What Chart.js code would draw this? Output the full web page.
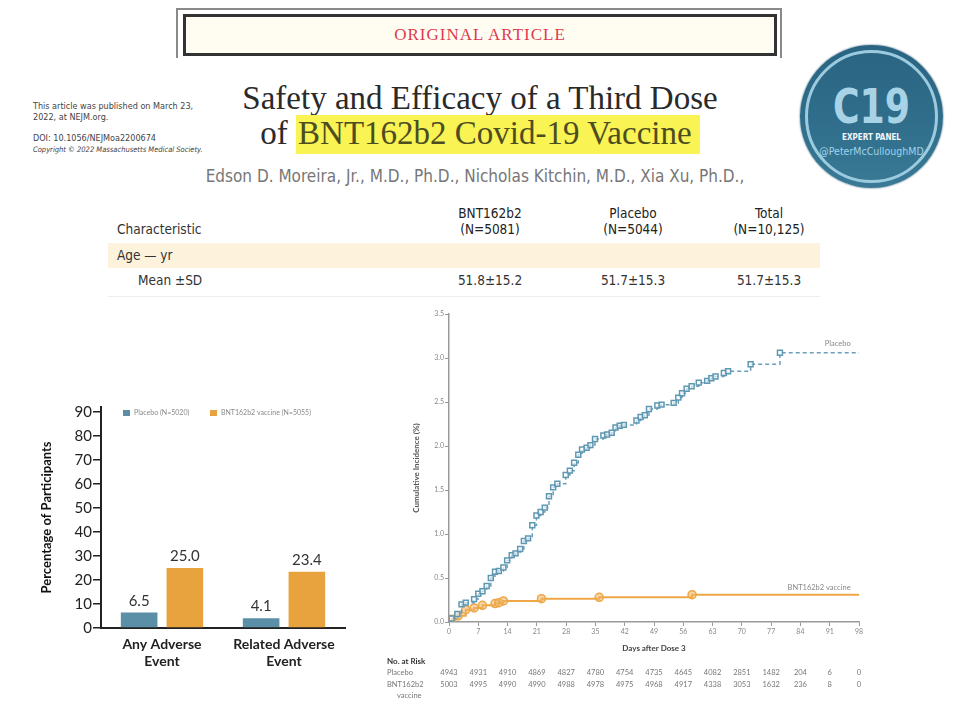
<!DOCTYPE html>
<html>
<head>
<meta charset="utf-8">
<script src="https://cdn.jsdelivr.net/npm/chart.js@4.4.1/dist/chart.umd.min.js"></script>
<style>
  html, body { margin: 0; padding: 0; background: #fff; }
  body { width: 960px; height: 720px; position: relative; overflow: hidden; font-family: "Liberation Sans Narrow", "DejaVu Sans Condensed", sans-serif; }
  .abs { position: absolute; }
  #frame { left: 176px; top: 8px; width: 606px; height: 50px; border: 2px solid #8a8a8a; border-bottom: none; box-sizing: border-box; }
  #banner { left: 183px; top: 14px; width: 594px; height: 42px; border: 3px solid #333; background: #fffdf2; box-sizing: border-box;
            text-align: center; line-height: 36px; color: #e0394f; font-family: "Liberation Serif", serif; font-size: 17px; letter-spacing: 1px; }
  #pubinfo { left: 33px; top: 101px; font-size: 9px; color: #444; line-height: 11px; }
  #title { left: 180px; top: 81px; width: 600px; text-align: center; font-family: "Liberation Serif", serif; font-size: 33px; color: #2a2a2a; line-height: 35px; }
  #title .hl { background: #f9f353; color: #4d4d22; padding: 0 8px 3px 2px; }
  #authors { left: 180px; top: 166px; width: 590px; text-align: center; font-size: 17px; color: #777; }
  #table { left: 108px; top: 200px; width: 712px; height: 96px; font-size: 13.5px; color: #333; }
  #table .band { position: absolute; left: 0; top: 43px; width: 712px; height: 25px; background: #fdf3dc; }
  #table .rule { position: absolute; left: 0; top: 96px; width: 712px; height: 1px; background: #eee; }
  #table .t { position: absolute; white-space: nowrap; }
  #table .c { position: absolute; text-align: center; width: 120px; line-height: 16px; }
  #table .h { color: #222; }
  #logo { left: 800px; top: 45px; width: 143px; height: 143px; border-radius: 50%;
          background: linear-gradient(to bottom, #2a6482 0%, #2f6d8a 50%, #3a7a96 100%); box-shadow: 0 0 2px #2a5b75; }
  #logo .ring { position: absolute; left: 5px; top: 5px; width: 127px; height: 127px; border-radius: 50%; border: 3px solid #9ccbe0; }
  #logo .big { position: absolute; left: 0; top: 37px; width: 143px; text-align: center; font-family: "Liberation Sans Narrow", "DejaVu Sans Condensed", sans-serif; font-weight: bold; font-size: 48px; color: #a8d3e6; line-height: 48px; transform: scaleX(0.84); }
  #logo .sm1 { position: absolute; left: 0; top: 88px; width: 143px; text-align: center; font-size: 8px; font-weight: bold; color: #f2f7fa; }
  #logo .sm2 { position: absolute; left: 0; top: 100px; width: 143px; text-align: center; font-size: 10.5px; color: #9fd3ea; }
  #barWrap { left: 20px; top: 395px; width: 350px; height: 285px; }
  #kmWrap { left: 380px; top: 300px; width: 500px; height: 405px; }
</style>
</head>
<body>
<div id="frame" class="abs"></div>
<div id="banner" class="abs">ORIGINAL ARTICLE</div>
<div id="pubinfo" class="abs">This article was published on March 23,<br>2022, at NEJM.org.<div style="height:10px"></div>DOI: 10.1056/NEJMoa2200674<br><i style="font-size:7.5px">Copyright © 2022 Massachusetts Medical Society.</i></div>
<div id="title" class="abs">Safety and Efficacy of a Third Dose<br>of <span class="hl">BNT162b2 Covid-19 Vaccine</span></div>
<div id="authors" class="abs">Edson D. Moreira, Jr., M.D., Ph.D., Nicholas Kitchin, M.D., Xia Xu, Ph.D.,</div>
<div id="table" class="abs">
  <div class="band"></div>
  <div class="t" style="left:9px;top:21px;">Characteristic</div>
  <div class="c h" style="left:322px;top:5px;">BNT162b2<br>(N=5081)</div>
  <div class="c h" style="left:465px;top:5px;">Placebo<br>(N=5044)</div>
  <div class="c h" style="left:601px;top:5px;">Total<br>(N=10,125)</div>
  <div class="t" style="left:9px;top:47px;">Age — yr</div>
  <div class="t" style="left:30px;top:72px;">Mean ±SD</div>
  <div class="c" style="left:322px;top:72px;">51.8±15.2</div>
  <div class="c" style="left:465px;top:72px;">51.7±15.3</div>
  <div class="c" style="left:601px;top:72px;">51.7±15.3</div>
  <div class="rule"></div>
</div>
<div id="logo" class="abs">
  <div class="ring"></div>
  <div class="big">C19</div>
  <div class="sm1">EXPERT PANEL</div>
  <div class="sm2">@PeterMcCulloughMD</div>
</div>
<div id="barWrap" class="abs"><canvas id="barChart"></canvas></div>
<div id="kmWrap" class="abs"><canvas id="kmChart"></canvas></div>

<script>
// ---- bar chart data ----
const eventLabels = [["Any Adverse", "Event"], ["Related Adverse", "Event"]];
const placeboPct = [6.5, 4.1];
const vaccinePct = [25.0, 23.4];

// ---- cumulative incidence data (days after dose 3, %) ----
const placeboDays = [0, 0.6, 2.0, 3.0, 4.0, 6.0, 7.0, 8.0, 9.0, 10.0, 11.0, 11.9, 13.0, 13.9, 15.0, 15.9, 17.0, 17.9, 18.9, 19.9, 20.9, 21.9, 22.9, 23.9, 24.9, 25.9, 27.9, 28.9, 29.9, 30.9, 31.8, 32.9, 33.8, 34.9, 36.9, 37.8, 38.9, 39.8, 40.8, 41.8, 44.8, 45.8, 46.8, 47.8, 49.8, 50.8, 53.7, 54.8, 55.7, 56.8, 58.0, 59.7, 61.7, 62.7, 63.7, 65.7, 66.7, 72.1, 79.1, 98];
const placeboInc = [0, 0.04, 0.09, 0.20, 0.22, 0.26, 0.32, 0.35, 0.41, 0.50, 0.57, 0.58, 0.62, 0.70, 0.76, 0.78, 0.83, 0.92, 0.95, 1.10, 1.21, 1.25, 1.30, 1.43, 1.53, 1.57, 1.67, 1.72, 1.81, 1.90, 1.96, 1.98, 2.01, 2.08, 2.12, 2.13, 2.15, 2.21, 2.23, 2.24, 2.29, 2.33, 2.35, 2.42, 2.46, 2.47, 2.49, 2.55, 2.60, 2.65, 2.68, 2.72, 2.74, 2.77, 2.79, 2.83, 2.85, 2.93, 3.06, 3.06];
const vaccineDays = [0, 0.6, 2.2, 4.0, 6.0, 8.0, 11.0, 11.9, 13.0, 22.1, 35.9, 58.1, 98];
const vaccineInc = [0, 0.03, 0.07, 0.14, 0.16, 0.19, 0.21, 0.22, 0.24, 0.265, 0.28, 0.31, 0.31];

// ---- number at risk ----
const riskDays = [0, 7, 14, 21, 28, 35, 42, 49, 56, 63, 70, 77, 84, 91, 98];
const placeboRisk = [4943, 4931, 4910, 4869, 4827, 4780, 4754, 4735, 4645, 4082, 2851, 1482, 204, 6, 0];
const vaccineRisk = [5003, 4995, 4990, 4990, 4988, 4978, 4975, 4968, 4917, 4338, 3053, 1632, 236, 8, 0];

const BLUE = "#5b8fa8";
const ORANGE = "#e8a23e";

// value labels above the bars + small legend in the top right corner
const barExtras = {
    id: "barExtras",
    afterDatasetsDraw(chart) {
        const ctx = chart.ctx;
        const area = chart.chartArea;
        ctx.save();
        ctx.font = "15px Lato, sans-serif";
        ctx.fillStyle = "#333";
        ctx.textAlign = "center";
        ctx.textBaseline = "bottom";
        chart.data.datasets.forEach((ds, i) => {
            chart.getDatasetMeta(i).data.forEach((bar, j) => {
                ctx.fillText(ds.data[j].toFixed(1), bar.x, bar.y - 4);
            });
        });

        // legend
        ctx.font = "7px Lato, sans-serif";
        ctx.textAlign = "left";
        ctx.textBaseline = "middle";
        const ly = area.top + 6;
        const lx = [area.left + 22, area.left + 109];
        chart.data.datasets.forEach((ds, i) => {
            ctx.fillStyle = ds.backgroundColor;
            ctx.fillRect(lx[i], ly - 3, 7, 6);
            ctx.fillStyle = "#8a8a8a";
            ctx.fillText(ds.label, lx[i] + 11, ly);
        });
        ctx.restore();
    }
};

new Chart(document.getElementById("barChart"), {
    type: "bar",
    data: {
        labels: eventLabels,
        datasets: [
            { label: "Placebo (N=5020)", data: placeboPct, backgroundColor: BLUE },
            { label: "BNT162b2 vaccine (N=5055)", data: vaccinePct, backgroundColor: ORANGE }
        ]
    },
    options: {
        responsive: true,
        maintainAspectRatio: false,
        animation: false,
        categoryPercentage: 0.75,
        barPercentage: 0.8,
        layout: { padding: { left: 15, right: 25, top: 12, bottom: 0 } },
        scales: {
            x: {
                grid: { display: false, drawTicks: false },
                border: { color: "#222", width: 2 },
                ticks: { color: "#222", font: { family: "Lato", size: 14, weight: "bold" }, padding: 8, maxRotation: 0 },
                afterFit(scale) { scale.height = 52; }
            },
            y: {
                min: 0,
                max: 92,
                grid: { drawOnChartArea: false, drawTicks: true, tickLength: 8, color: "#222", lineWidth: 1.5 },
                border: { color: "#222", width: 2 },
                ticks: { stepSize: 10, includeBounds: false, color: "#222", font: { family: "Lato", size: 15 }, padding: 1 },
                title: { display: true, text: "Percentage of Participants", color: "#111", font: { family: "Lato", size: 13, weight: "bold" } },
                afterFit(scale) { scale.width = 66; }
            }
        },
        plugins: {
            legend: { display: false },
            tooltip: { enabled: false }
        }
    },
    plugins: [barExtras]
});

// series names and number-at-risk table under the km plot
const kmExtras = {
    id: "kmExtras",
    afterDraw(chart) {
        const ctx = chart.ctx;
        const xs = chart.scales.x;
        const ys = chart.scales.y;
        ctx.save();
        ctx.fillStyle = "#888";
        ctx.font = "7.5px Lato, sans-serif";
        ctx.textAlign = "right";
        ctx.textBaseline = "middle";
        ctx.fillText("Placebo", xs.getPixelForValue(96), ys.getPixelForValue(3.16));
        ctx.fillText("BNT162b2 vaccine", xs.getPixelForValue(96), ys.getPixelForValue(0.39));

        const rowY = [673, 685];
        const top = chart.canvas.getBoundingClientRect().top;
        ctx.textAlign = "left";
        ctx.fillStyle = "#333";
        ctx.font = "bold 8px Lato, sans-serif";
        ctx.fillText("No. at Risk", 7, 661 - top);
        ctx.fillStyle = "#777";
        ctx.font = "7.5px Lato, sans-serif";
        ctx.fillText("Placebo", 7, rowY[0] - top);
        ctx.fillText("BNT162b2", 7, rowY[1] - top);
        ctx.fillText("vaccine", 17, 696 - top);
        ctx.textAlign = "center";
        riskDays.forEach((d, i) => {
            const x = xs.getPixelForValue(d);
            ctx.fillText(String(placeboRisk[i]), x, rowY[0] - top);
            ctx.fillText(String(vaccineRisk[i]), x, rowY[1] - top);
        });
        ctx.restore();
    }
};

const endPoint = (c) => c.dataIndex === 0 || c.dataIndex === c.dataset.data.length - 1;

new Chart(document.getElementById("kmChart"), {
    type: "line",
    data: {
        datasets: [
            {
                label: "Placebo",
                data: placeboDays.map((d, i) => ({ x: d, y: placeboInc[i] })),
                borderColor: "#6a9fb9",
                borderWidth: 1.5,
                borderDash: [4, 3],
                stepped: true,
                pointStyle: "rect",
                pointRadius: (c) => endPoint(c) ? 0 : 3.5,
                pointBorderColor: "#5f98b3",
                pointBackgroundColor: "rgba(255,255,255,0.6)",
                pointBorderWidth: 1.5
            },
            {
                label: "BNT162b2 vaccine",
                data: vaccineDays.map((d, i) => ({ x: d, y: vaccineInc[i] })),
                borderColor: "#eda745",
                borderWidth: 2,
                stepped: true,
                pointStyle: "circle",
                pointRadius: (c) => endPoint(c) ? 0 : 4,
                pointBorderColor: "#eda745",
                pointBackgroundColor: "rgba(240,180,100,0.55)",
                pointBorderWidth: 1.5
            }
        ]
    },
    options: {
        responsive: true,
        maintainAspectRatio: false,
        animation: false,
        layout: { padding: { left: 28, right: 21, top: 14, bottom: 50 } },
        scales: {
            x: {
                type: "linear",
                min: 0,
                max: 98,
                grid: { drawOnChartArea: false, drawTicks: true, tickLength: 4, color: "#999" },
                border: { color: "#999", width: 1.5 },
                ticks: { stepSize: 7, color: "#888", font: { family: "Lato", size: 7 }, padding: 2, maxRotation: 0 },
                title: { display: true, text: "Days after Dose 3", color: "#444", font: { family: "Lato", size: 8, weight: "bold" }, padding: { top: 5, bottom: 2 } }
            },
            y: {
                min: 0,
                max: 3.5,
                grid: { drawOnChartArea: false, drawTicks: true, tickLength: 4, color: "#999" },
                border: { color: "#999", width: 1.5 },
                ticks: { stepSize: 0.5, color: "#888", font: { family: "Lato", size: 7 }, padding: 1, callback: (v) => v.toFixed(1) },
                title: { display: true, text: "Cumulative Incidence (%)", color: "#555", font: { family: "Lato", size: 8, weight: "bold" } },
                afterFit(scale) { scale.width = 41; }
            }
        },
        plugins: {
            legend: { display: false },
            tooltip: { enabled: false }
        }
    },
    plugins: [kmExtras]
});
</script>
</body>
</html>
